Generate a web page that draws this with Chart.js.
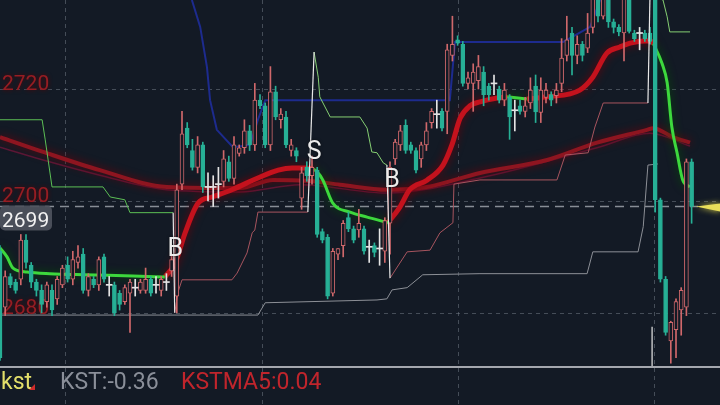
<!DOCTYPE html>
<html>
<head>
<meta charset="utf-8">
<script src="https://cdn.jsdelivr.net/npm/chart.js@4.4.1/dist/chart.umd.min.js"></script>
<style>
  html, body { margin: 0; padding: 0; background: #131a25; }
  canvas { display: block; }
</style>
</head>
<body>
<canvas id="kline" width="720" height="405"></canvas>
<script>
// candles (one per bar)
const opens = [
  2691, 2681, 2686.5, 2685.5, 2686, 2693, 2688.5, 2685.5, 2684, 2682,
  2684, 2682.5, 2685, 2688.5, 2686, 2689, 2690.5, 2684, 2686, 2685,
  2690, 2685, 2685, 2683.5, 2682, 2683.5, 2684.5, 2684, 2684, 2686,
  2685, 2684, 2685.5, 2687.5, 2683, 2703, 2713, 2709, 2706, 2710,
  2702.5, 2702.5, 2703, 2703.5, 2707, 2704, 2708.5, 2709.5, 2712.5, 2710,
  2718, 2717, 2710, 2719.5, 2714.5, 2715, 2709, 2709, 2700.5, 2706,
  2704.5, 2705.5, 2694.5, 2693.5, 2683.5, 2690.5, 2692, 2697, 2695, 2694.8,
  2695, 2691.8, 2692, 2691.5, 2691, 2696, 2707.5, 2710, 2713.5, 2710,
  2709, 2707.5, 2710, 2714, 2715.5, 2716, 2716, 2726, 2728.8, 2728,
  2721, 2721, 2721.5, 2723, 2720.5, 2721, 2720, 2718, 2718.5, 2716.2,
  2717, 2716, 2717.5, 2720.5, 2715.8, 2718.5, 2719, 2718.8, 2721, 2726,
  2730, 2726, 2728, 2727.3, 2731, 2738, 2733, 2740, 2732, 2731,
  2730, 2738, 2730, 2730, 2730, 2730, 2737, 2700.2, 2686, 2675,
  2677, 2680.5, 2681, 2707
];
const highs = [
  2692, 2687.5, 2687, 2686, 2694, 2694, 2689, 2686, 2685, 2685.5,
  2685, 2686.5, 2688.5, 2690, 2691, 2692, 2691.5, 2687, 2686.5, 2690,
  2690.5, 2686.5, 2685.5, 2684, 2685, 2686, 2686, 2686, 2688, 2686.5,
  2686.5, 2686.5, 2687, 2690.5, 2703, 2716, 2714, 2711, 2711.5, 2710.5,
  2705, 2704.5, 2706, 2709, 2708, 2711.5, 2710, 2714.5, 2713.5, 2721,
  2719, 2717.5, 2724, 2720.5, 2716.5, 2716, 2711, 2709.5, 2706, 2707,
  2708, 2706, 2695, 2694, 2691.5, 2691.5, 2696.5, 2698, 2695.5, 2698.5,
  2695.5, 2693, 2692.5, 2695, 2697, 2707, 2711, 2713.5, 2714.5, 2710.5,
  2709.5, 2710.5, 2714, 2716.5, 2718, 2716.5, 2728, 2733, 2729.5, 2728.5,
  2723, 2724.5, 2726, 2724, 2721, 2722.5, 2720.5, 2721, 2719, 2718,
  2718, 2718.5, 2722, 2722.5, 2722, 2721, 2719.5, 2721, 2729, 2733,
  2731, 2729.5, 2728.5, 2733.5, 2738, 2739, 2740, 2741, 2732.5, 2731.5,
  2740, 2739, 2730.5, 2731, 2730.5, 2731, 2738, 2700.5, 2686.5, 2678.5,
  2682.5, 2684.5, 2707.5, 2707.5
];
const lows = [
  2671.5, 2679.5, 2684.5, 2683.5, 2685, 2688, 2684.5, 2683, 2680, 2681,
  2679.5, 2681.5, 2684.5, 2685.5, 2685, 2688, 2683.5, 2683, 2684.5, 2684,
  2685.5, 2683, 2679.5, 2680.5, 2681.5, 2676.5, 2683, 2683.5, 2683.5, 2683,
  2683.5, 2683, 2684, 2686.5, 2680, 2702, 2709.5, 2705.5, 2705, 2701.5,
  2700, 2699, 2700.5, 2702.5, 2703.5, 2703, 2708, 2708.5, 2709, 2709,
  2716.5, 2709.5, 2709, 2714.5, 2713, 2709.5, 2708, 2707, 2698.5, 2703.5,
  2703, 2693.5, 2692.5, 2682.5, 2683, 2689.5, 2690, 2694.5, 2692.5, 2693.5,
  2690.5, 2689, 2690, 2688.5, 2689, 2690.5, 2706.5, 2709, 2708.5, 2708.5,
  2705, 2706, 2709, 2713, 2713, 2712.5, 2712, 2725, 2727.8, 2720.5,
  2720, 2716, 2720, 2717, 2718, 2719, 2717.5, 2717, 2711, 2712.5,
  2715.5, 2715, 2716.5, 2714, 2714, 2717.5, 2717, 2717.5, 2719.5, 2725,
  2722.5, 2724.5, 2725, 2726.5, 2730, 2732, 2732.5, 2731, 2730, 2729.5,
  2725, 2730, 2728.5, 2727, 2728.5, 2728, 2698, 2685.5, 2676, 2671,
  2672, 2676, 2679.5, 2696
];
const closes = [
  2672, 2686.5, 2685, 2684, 2693, 2689, 2685.5, 2684, 2681.5, 2685,
  2680.5, 2686, 2688, 2686, 2689.5, 2690, 2684, 2686.5, 2685, 2689.5,
  2686, 2685, 2680, 2681.5, 2684.5, 2685.5, 2684.5, 2685.5, 2686, 2683.5,
  2685, 2686, 2685.5, 2689.5, 2702, 2712, 2710, 2706, 2710, 2702.5,
  2702.5, 2702.5, 2703, 2707.5, 2704, 2710, 2709.5, 2712.5, 2710, 2718,
  2717, 2710, 2719.5, 2715, 2715.5, 2710, 2710, 2708, 2705, 2704.5,
  2706, 2694, 2693, 2683, 2691, 2691.5, 2696, 2695, 2693, 2696,
  2691, 2691.8, 2690.8, 2691.5, 2696.5, 2706, 2710.5, 2712.5, 2709, 2709,
  2705.5, 2710, 2712.5, 2716, 2715.5, 2713, 2727, 2728, 2728.2, 2721,
  2722, 2723, 2724, 2719, 2719, 2721, 2718, 2719.8, 2715, 2716.2,
  2716, 2717, 2719.8, 2715.9, 2719.8, 2719.8, 2718, 2719.8, 2725.5, 2728.8,
  2726, 2728, 2726, 2730, 2736.5, 2733, 2739, 2732, 2731, 2730.2,
  2738, 2730.3, 2729, 2730, 2729, 2728.5, 2700.2, 2686, 2676.5, 2678.3,
  2682, 2684, 2707, 2699
];

const yTicks = [2680, 2700, 2720];
const xGridTicks = [12.5, 50.4, 88.1, 125.8];
const lastPrice = 2699;
const kstValue = '-0.36';
const kstMa5Value = '0.04';

const signalText = ['B', 'S', 'B'];
const signalIdx = [33.7, 60.4, 75.4];
const signalPrice = [2691.2, 2708.6, 2703.6];

// fast average, split where it changes colour
const fastDownAX = [0, 1.35, 2.5, 5.2, 9.6, 16, 25.6, 31.7];
const fastDownAY = [2691.6, 2690.0, 2688.0, 2687.3, 2687.0, 2686.8, 2686.6, 2686.4];
const fastUpAX = [31.7, 33.7, 35.6, 38.1, 40.8, 44.6, 49.6, 53.5, 56.2, 58.7, 60.2];
const fastUpAY = [2686.4, 2688.9, 2694.3, 2699.6, 2700.7, 2702.0, 2704.1, 2705.5, 2705.9, 2705.9, 2705.7];
const fastDownBX = [60.2, 61, 62.1, 64, 67.3, 70.6, 74.6];
const fastDownBY = [2705.7, 2705.2, 2703.7, 2699.6, 2698.0, 2697.1, 2696.1];
const fastUpBX = [74.6, 76.9, 78.8, 82.1, 85.2, 86.9, 88.5, 90.4, 92.3, 95.6, 97.5];
const fastUpBY = [2696.1, 2698.9, 2702.0, 2703.7, 2706.4, 2710.0, 2714.8, 2717.0, 2717.7, 2718.4, 2718.6];
const fastDownCX = [97.5, 101.3];
const fastDownCY = [2718.6, 2718.2];
const fastUpCX = [101.3, 105.2, 111.5, 114, 116.7, 119.2, 121.2, 125, 125.6];
const fastUpCY = [2718.2, 2718.6, 2719.8, 2722.1, 2726.4, 2727.5, 2728.2, 2728.6, 2728.2];
const fastDownDX = [125.6, 127.3, 128.3, 129.2, 130.2, 131.3, 132.7];
const fastDownDY = [2728.2, 2724.6, 2721.1, 2713.2, 2708.6, 2703.7, 2702.5];

// slow averages
const slowX = [0, 8.3, 19.2, 32.1, 46.2, 52.5, 59, 65.4, 74.4, 82.1, 92.3, 105.2, 114.8, 124.4, 125.6, 129.4, 132.7];
const slowY = [2711.4, 2708.75, 2705.5, 2702.5, 2702.3, 2703.75, 2703.6, 2702.9, 2702, 2702.5, 2705, 2707.3, 2710.4, 2712.7, 2713, 2711.4, 2710.4];
const slow2X = [0, 8.3, 19.2, 32.1, 46.2, 57.7, 74.4, 92.3, 114.8, 125, 132.7];
const slow2Y = [2709.6, 2707.3, 2704.6, 2702, 2701.6, 2702.9, 2701.4, 2704.1, 2709.5, 2712.1, 2709.8];

// trailing stops
const upStopAX = [0, 8.1, 8.7, 10, 19.8, 21.2, 24, 25, 33.3];
const upStopAY = [2714.5, 2714.5, 2710.9, 2702.5, 2702.5, 2700.7, 2700.2, 2697.9, 2697.9];
const lowStopAX = [33.6, 34.2, 35, 44.6, 45.6, 47.5, 48.5, 49, 49.6, 59.2];
const lowStopAY = [2680, 2683.6, 2685.9, 2685.9, 2687.1, 2690.7, 2694.3, 2694.8, 2698, 2698];
const upStopBX = [60.4, 61.2, 61.5, 63.5, 69.2, 70.6, 71.5, 72.5, 73.7, 74.4];
const upStopBY = [2726.6, 2722.1, 2718.6, 2715, 2715, 2713, 2708.75, 2708.6, 2706.8, 2706.4];
const lowStopBX = [75, 78.3, 82.7, 84.6, 87.1, 87.3, 92.3, 107.1, 108.7, 113.1, 114.4, 116, 124.6];
const lowStopBY = [2686.2, 2690.9, 2691.2, 2694.3, 2696.1, 2703, 2703.75, 2703.75, 2708.2, 2708.6, 2713.2, 2717.5, 2717.5];
const upStopCX = [125, 127.5, 128.3, 128.8, 132.7];
const upStopCY = [2737, 2735.9, 2732.9, 2730.2, 2730.2];
const grayStopX = [0, 49.6, 51, 72.5, 74.4, 75.4, 78.3, 81.3, 92.3, 112.9, 114, 122.7, 123.7, 124.6, 126.5];
const grayStopY = [2679.6, 2679.6, 2681.8, 2682.3, 2682.5, 2684.1, 2684.5, 2686.8, 2687, 2687, 2690.9, 2690.9, 2695.4, 2706.4, 2706.6];
// flips between the stops
const flipAX = [33.3, 33.6], flipAY = [2697.9, 2680];
const flipBX = [59.2, 60.4], flipBY = [2698, 2726.6];
const flipCX = [74.4, 75], flipCY = [2706.4, 2686.2];
const flipDX = [124.6, 125], flipDY = [2717.5, 2737];
const flipEX = [125.4, 125.4], flipEY = [2677.5, 2670.5];

// blue band
const blueX = [36.9, 38.5, 39.8, 40.4, 41.7, 44.8, 48.1, 49.6, 51, 86.5, 87.5, 108.3, 113.5, 115.4];
const blueY = [2735.9, 2731.1, 2723.9, 2718, 2712.7, 2709.6, 2710, 2714.5, 2718, 2718, 2728.4, 2728.4, 2731.1, 2735.9];

const BG = '#131a25';
const UP = '#d0686b';
const DOWN = '#27b096';
const DOJI = '#e4e4e4';

const pts = (xs, ys) => xs.map((x, i) => ({ x: x, y: ys[i] }));
const kind = i => closes[i] > opens[i] ? 'up' : (closes[i] < opens[i] ? 'down' : 'doji');
const bars = opens.map((_, i) => i);
const colorOf = i => ({ up: UP, down: DOWN, doji: DOJI })[kind(i)];

const wicks = bars.map(i => ({ x: i, y: [lows[i], highs[i]] }));
const bodies = bars.filter(i => kind(i) !== 'doji')
  .map(i => ({ x: i, y: [Math.min(opens[i], closes[i]), Math.max(opens[i], closes[i])] }));
const dojis = bars.filter(i => kind(i) === 'doji')
  .map(i => ({ x: i, y: [opens[i] - 0.09, opens[i] + 0.09] }));

function line(xs, ys, color, width, more) {
  return Object.assign({
    type: 'line', data: pts(xs, ys), borderColor: color, borderWidth: width,
    pointRadius: 0, fill: false, tension: 0, order: 10
  }, more || {});
}
const smooth = { cubicInterpolationMode: 'monotone' };
const redGlow = 'rgba(110,0,10,0.95)';
const greenGlow = 'rgba(0,90,0,0.9)';

const glowPlugin = {
  id: 'glow',
  beforeDatasetDraw(chart, args) {
    const ds = chart.data.datasets[args.index];
    if (!ds.glow) return;
    chart.ctx.save();
    chart.ctx.shadowColor = ds.glow;
    chart.ctx.shadowBlur = 8;
  },
  afterDatasetDraw(chart, args) {
    if (chart.data.datasets[args.index].glow) chart.ctx.restore();
  }
};

const gridPlugin = {
  id: 'grid',
  beforeDatasetsDraw(chart) {
    const { ctx, chartArea, scales: { x, y } } = chart;
    ctx.save();
    ctx.strokeStyle = 'rgba(120,128,140,0.5)';
    ctx.lineWidth = 1;
    ctx.setLineDash([4, 4]);
    yTicks.forEach(v => {
      const py = Math.round(y.getPixelForValue(v)) + 0.5;
      ctx.beginPath(); ctx.moveTo(chartArea.left, py); ctx.lineTo(chartArea.right, py); ctx.stroke();
    });
    xGridTicks.forEach(v => {
      const px = Math.round(x.getPixelForValue(v)) + 0.5;
      ctx.beginPath(); ctx.moveTo(px, 0); ctx.lineTo(px, chart.height); ctx.stroke();
    });
    // last price line
    const lp = y.getPixelForValue(lastPrice);
    ctx.strokeStyle = 'rgba(165,170,178,0.8)';
    ctx.lineWidth = 1.5;
    ctx.setLineDash([9, 6]);
    ctx.beginPath(); ctx.moveTo(0, lp); ctx.lineTo(chartArea.right - 22, lp); ctx.stroke();
    // price labels sit under the candles
    ctx.setLineDash([]);
    ctx.font = '21px Roboto';
    ctx.textAlign = 'left';
    ctx.textBaseline = 'alphabetic';
    ctx.fillStyle = '#961d23';
    ctx.shadowColor = 'rgba(90,0,0,0.9)';
    ctx.shadowBlur = 4;
    yTicks.forEach(v => ctx.fillText(String(v), 2, y.getPixelForValue(v) + 1));
    ctx.restore();
  }
};

const labelPlugin = {
  id: 'labels',
  afterDatasetsDraw(chart) {
    const { ctx, chartArea, scales: { x, y } } = chart;
    ctx.save();
    const lp = y.getPixelForValue(lastPrice);

    // last price tag
    ctx.fillStyle = 'rgba(78,83,93,0.92)';
    ctx.beginPath(); ctx.roundRect(0, lp - 1, 52, 25, 5); ctx.fill();
    ctx.font = '21px Roboto';
    ctx.fillStyle = '#f2f2f2';
    ctx.textAlign = 'left';
    ctx.fillText(String(lastPrice), 2, lp + 20);

    // yellow pointer at the right edge
    ctx.shadowColor = 'rgba(240,230,80,0.9)';
    ctx.shadowBlur = 6;
    ctx.fillStyle = '#e9df5a';
    ctx.beginPath();
    ctx.moveTo(chartArea.right - 24, lp);
    ctx.lineTo(chartArea.right, lp - 3);
    ctx.lineTo(chartArea.right, lp + 5);
    ctx.closePath(); ctx.fill();
    ctx.shadowBlur = 0;

    // buy / sell marks
    ctx.font = '25px Roboto';
    ctx.textAlign = 'center';
    ctx.textBaseline = 'middle';
    ctx.fillStyle = '#ececec';
    ctx.shadowColor = 'rgba(0,0,0,0.6)';
    ctx.shadowBlur = 3;
    signalText.forEach((t, i) => ctx.fillText(t, x.getPixelForValue(signalIdx[i]), y.getPixelForValue(signalPrice[i])));
    ctx.shadowBlur = 0;

    // indicator panel header
    const by = chartArea.bottom;
    ctx.fillStyle = '#a4a7ae';
    ctx.fillRect(0, by, chart.width, 2);
    ctx.font = '23px Roboto';
    ctx.textAlign = 'left';
    ctx.textBaseline = 'alphabetic';
    ctx.fillStyle = '#e3df6a';
    ctx.fillText('kst', 1, by + 23);
    ctx.fillStyle = '#d02a2a';
    ctx.beginPath(); ctx.moveTo(29, by + 24); ctx.lineTo(35, by + 24); ctx.lineTo(35, by + 18); ctx.closePath(); ctx.fill();
    ctx.fillStyle = '#8a8f99';
    ctx.fillText('KST:' + kstValue, 60, by + 23);
    ctx.fillStyle = '#c0252c';
    ctx.fillText('KSTMA5:' + kstMa5Value, 181, by + 23);
    ctx.restore();
  }
};

new Chart(document.getElementById('kline'), {
  type: 'bar',
  data: {
    datasets: [
      line(blueX, blueY, '#1d2b8e', 2, { order: 14 }),
      line(grayStopX, grayStopY, '#8d9097', 1, { order: 13 }),
      line(slow2X, slow2Y, '#5b1838', 1.5, Object.assign({ order: 12 }, smooth)),
      line(slowX, slowY, '#8e1520', 4, Object.assign({ order: 11, glow: redGlow }, smooth)),
      line(upStopAX, upStopAY, '#5cbf55', 1),
      line(lowStopAX, lowStopAY, '#a8555f', 1),
      line(upStopBX, upStopBY, '#86cf73', 1),
      line(lowStopBX, lowStopBY, '#a8555f', 1),
      line(upStopCX, upStopCY, '#86cf73', 1),
      line(fastDownAX, fastDownAY, '#3dd83d', 3, Object.assign({ glow: greenGlow }, smooth)),
      line(fastUpAX, fastUpAY, '#c4121d', 5, Object.assign({ glow: redGlow }, smooth)),
      line(fastDownBX, fastDownBY, '#3dd83d', 3, Object.assign({ glow: greenGlow }, smooth)),
      line(fastUpBX, fastUpBY, '#c4121d', 5, Object.assign({ glow: redGlow }, smooth)),
      line(fastDownCX, fastDownCY, '#3dd83d', 3, { glow: greenGlow }),
      line(fastUpCX, fastUpCY, '#c4121d', 5, Object.assign({ glow: redGlow }, smooth)),
      line(fastDownDX, fastDownDY, '#3dd83d', 3, Object.assign({ glow: greenGlow }, smooth)),
      {
        data: wicks, grouped: false, barThickness: 1, order: 4,
        backgroundColor: c => colorOf(c.raw.x)
      },
      {
        data: bodies, grouped: false, barThickness: 4, order: 3,
        borderWidth: 1, borderSkipped: false,
        backgroundColor: c => kind(c.raw.x) === 'up' ? BG : DOWN,
        borderColor: c => colorOf(c.raw.x)
      },
      { data: dojis, grouped: false, barThickness: 6, order: 2, backgroundColor: DOJI },
      line(flipAX, flipAY, '#e8e8e8', 1.2, { order: 1 }),
      line(flipBX, flipBY, '#e8e8e8', 1.2, { order: 1 }),
      line(flipCX, flipCY, '#e8e8e8', 1.2, { order: 1 }),
      line(flipDX, flipDY, '#e8e8e8', 1.2, { order: 1 }),
      line(flipEX, flipEY, '#e8e8e8', 1.2, { order: 1 })
    ]
  },
  options: {
    responsive: false,
    animation: false,
    layout: { padding: { bottom: 39 } },
    plugins: { legend: { display: false }, tooltip: { enabled: false } },
    scales: {
      x: { type: 'linear', min: 0, max: 138.46, offset: false, display: false },
      y: { min: 2670.5, max: 2735.9, display: false }
    }
  },
  plugins: [glowPlugin, gridPlugin, labelPlugin]
});
</script>
</body>
</html>
